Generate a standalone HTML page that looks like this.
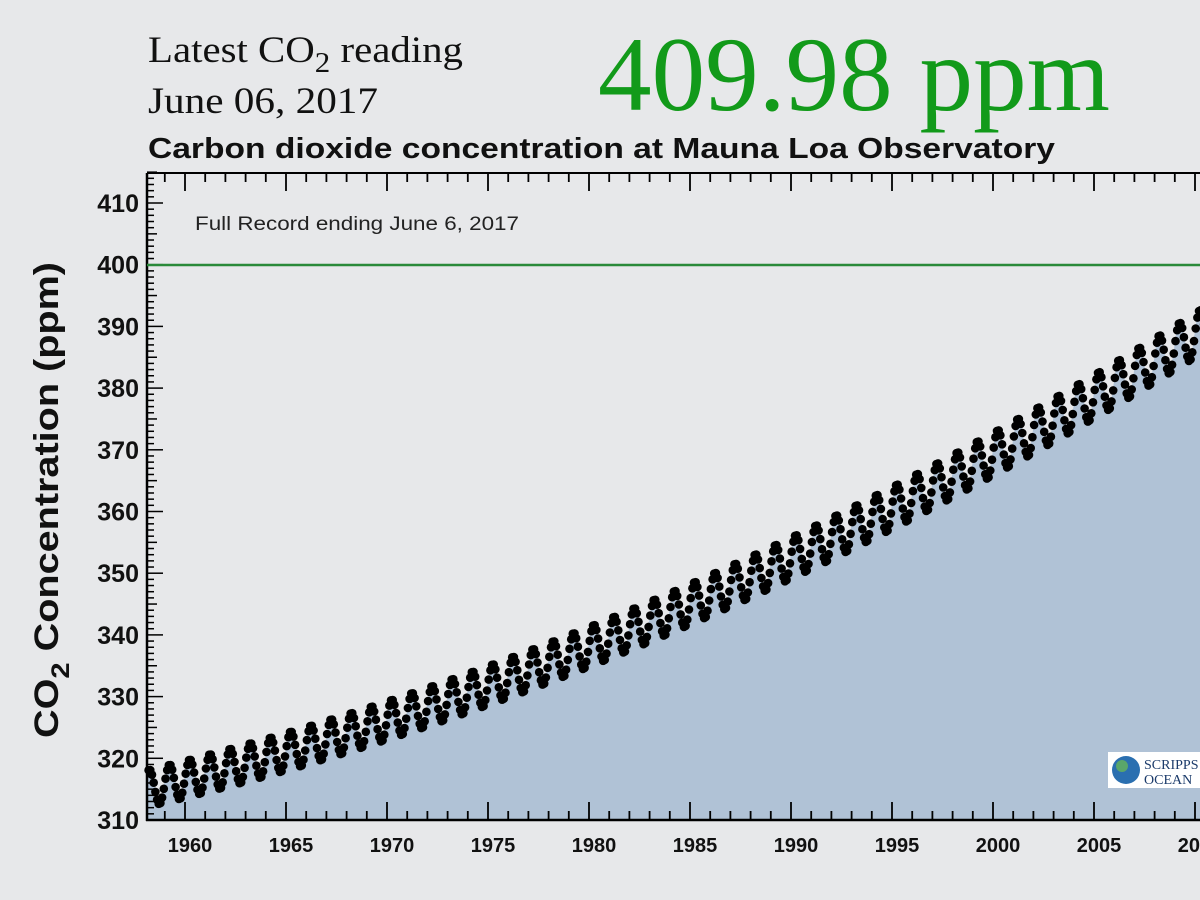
<!DOCTYPE html>
<html><head><meta charset="utf-8"><style>
html,body{margin:0;padding:0;background:#e7e8ea;}
svg{display:block}
</style></head><body>
<svg id="s" width="1200" height="900" xmlns="http://www.w3.org/2000/svg" font-family="Liberation Sans, sans-serif">
<rect width="1200" height="900" fill="#e7e8ea"/>
<text x="148" y="62" font-family="Liberation Serif, serif" font-size="37" fill="#111" textLength="315" lengthAdjust="spacingAndGlyphs">Latest CO<tspan dy="10" font-size="28">2</tspan><tspan dy="-10"> reading</tspan></text>
<text x="148" y="113" font-family="Liberation Serif, serif" font-size="37" fill="#111" textLength="230" lengthAdjust="spacingAndGlyphs">June 06, 2017</text>
<text x="598" y="110" font-family="Liberation Serif, serif" font-size="106" fill="#129a1a" textLength="512" lengthAdjust="spacingAndGlyphs">409.98 ppm</text>
<text x="148" y="158" font-size="29" font-weight="bold" fill="#111" textLength="907" lengthAdjust="spacingAndGlyphs">Carbon dioxide concentration at Mauna Loa Observatory</text>
<g id="plot"></g>
<text x="195" y="230" font-size="19" fill="#222" textLength="324" lengthAdjust="spacingAndGlyphs">Full Record ending June 6, 2017</text>
<line x1="147" y1="265" x2="1200" y2="265" stroke="#2a8a3a" stroke-width="2.5"/>
<g transform="translate(58,500) rotate(-90)"><text x="-238" text-anchor="start" font-size="34" font-weight="bold" fill="#111" textLength="476" lengthAdjust="spacingAndGlyphs">CO<tspan dy="11" font-size="25">2</tspan><tspan dy="-11"> Concentration (ppm)</tspan></text></g>
<g transform="translate(1108,752)">
<rect width="92" height="36" fill="#fff"/>
<circle cx="18" cy="18" r="14" fill="#2a6fb0"/><circle cx="14" cy="14" r="6" fill="#5aa66a"/>
<text x="36" y="17" font-family="Liberation Serif, serif" font-size="14" fill="#1a3a6a">SCRIPPS</text>
<text x="36" y="32" font-family="Liberation Serif, serif" font-size="14" fill="#1a3a6a">OCEAN</text>
</g>
</svg>
<script>
var ns="http://www.w3.org/2000/svg",g=document.getElementById("plot");
function X(y){return 185+(y-1960)*20.2;}
function Y(v){return 820-(v-310)*6.17;}
function el(t,a){var e=document.createElementNS(ns,t);for(var k in a)e.setAttribute(k,a[k]);g.appendChild(e);return e;}
var pts=[];
for(var t=1958.2;t<2011;t+=1/12){var d=t-1958;var c=315+0.78*d+0.0122*d*d+3*Math.sin(2*Math.PI*(t-1958.13)+0.9)*(1+d*0.004);pts.push([X(t),Y(c)]);}
var p="M147,820 ";pts.forEach(function(q){p+="L"+q[0].toFixed(1)+","+(q[1]-3).toFixed(1)+" ";});p+="L1200,820Z";
el("path",{d:p,fill:"#b0c2d6"});
pts.forEach(function(q){el("circle",{cx:q[0].toFixed(1),cy:q[1].toFixed(1),r:4.3,fill:"#000"});});
el("line",{x1:147,y1:173,x2:1200,y2:173,stroke:"#000","stroke-width":2});
el("line",{x1:147,y1:173,x2:147,y2:821,stroke:"#000","stroke-width":2.5});
el("line",{x1:146,y1:820,x2:1200,y2:820,stroke:"#000","stroke-width":2.5});
for(var v=310;v<=415;v++){var y=Y(v);var L=v%10==0?16:(v%5==0?10:7);el("line",{x1:147,y1:y,x2:147+L,y2:y,stroke:"#000","stroke-width":1.5});
if(v%10==0){var tx=el("text",{x:139,y:y+9,"text-anchor":"end","font-size":25,"font-weight":"bold",fill:"#111"});tx.textContent=v;}}
for(var yr=1958;yr<=2011;yr++){var x=X(yr);if(x<148||x>1200)continue;var L=yr%5==0?18:9;
el("line",{x1:x,y1:820,x2:x,y2:820-L,stroke:"#000","stroke-width":1.8});el("line",{x1:x,y1:173,x2:x,y2:173+L,stroke:"#000","stroke-width":1.8});
if(yr%5==0){var tx=el("text",{x:x+5,y:852,"text-anchor":"middle","font-size":20,"font-weight":"bold",fill:"#111"});tx.textContent=yr;}}
</script>
</body></html>
